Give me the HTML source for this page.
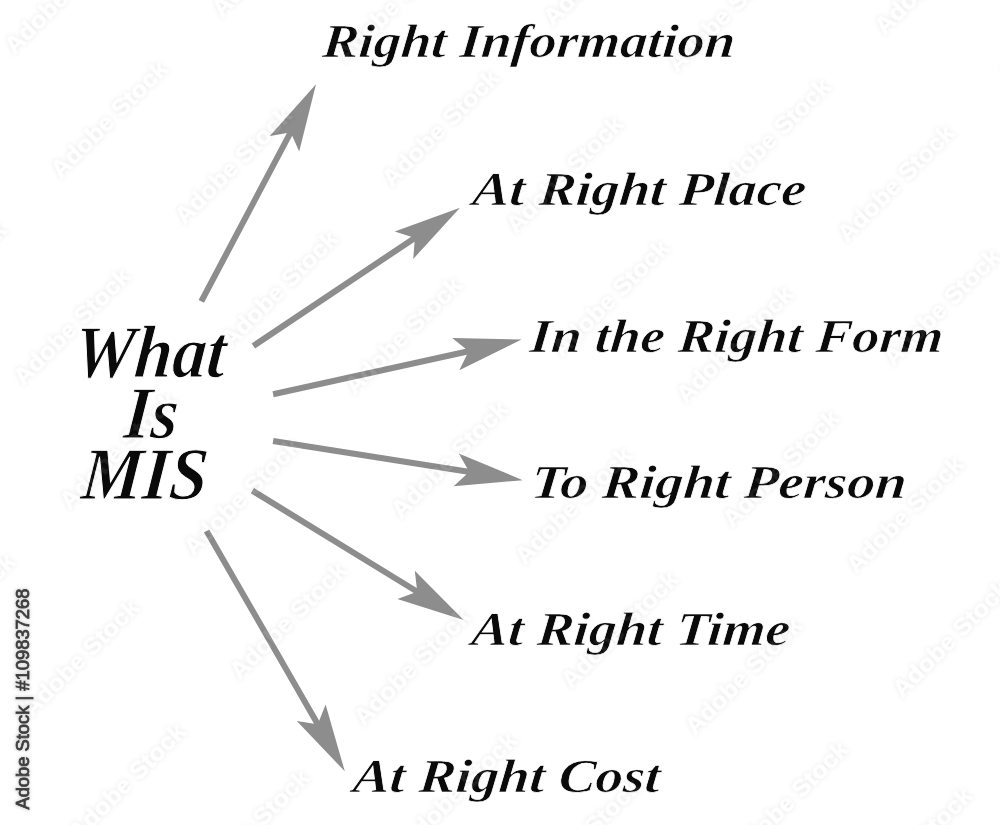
<!DOCTYPE html>
<html><head><meta charset="utf-8"><style>
html,body{margin:0;padding:0;background:#fff;}
body{width:1000px;height:825px;overflow:hidden;position:relative;}
svg{position:absolute;left:0;top:0;}
.t{font-family:"Liberation Serif",serif;font-weight:bold;font-style:italic;fill:#0a0a0a;}
.v{font-family:"Liberation Sans",sans-serif;fill:#3d3d3d;}
</style></head><body>
<svg width="1000" height="825" viewBox="0 0 1000 825">
<g fill="#8d8d8d">
<polygon points="198.6,300.0 286.9,132.9 269.8,136.0 316.0,84.2 299.2,151.6 292.2,135.7 204.0,302.8"/>
<polygon points="251.7,343.4 411.2,236.7 394.7,231.4 460.0,207.7 413.2,259.0 414.6,241.7 255.1,348.4"/>
<polygon points="272.5,391.3 465.6,348.8 452.2,337.9 521.6,339.6 459.3,370.3 466.9,354.7 273.7,397.2"/>
<polygon points="273.6,438.1 467.3,468.5 458.8,453.4 522.8,480.2 453.6,486.2 466.4,474.4 272.6,444.1"/>
<polygon points="254.0,488.1 416.8,587.9 414.8,570.7 463.6,620.0 397.4,599.0 413.7,593.0 250.8,493.3"/>
<polygon points="209.2,529.4 319.2,720.7 325.6,704.6 344.8,771.3 296.8,721.1 314.0,723.7 204.0,532.4"/>
</g>
<g class="t">
<text x="321.5" y="57.5" font-size="47.4" textLength="412.5" lengthAdjust="spacingAndGlyphs" transform="translate(0 57.5) skewX(-5) translate(0 -57.5)" stroke="#fff" stroke-width="0.7">Right Information</text>
<text x="471.5" y="205.0" font-size="47.4" textLength="333.5" lengthAdjust="spacingAndGlyphs" transform="translate(0 205.0) skewX(-5) translate(0 -205.0)" stroke="#fff" stroke-width="0.7">At Right Place</text>
<text x="529.0" y="352.0" font-size="47.4" textLength="413.0" lengthAdjust="spacingAndGlyphs" transform="translate(0 352.0) skewX(-5) translate(0 -352.0)" stroke="#fff" stroke-width="0.7">In the Right Form</text>
<text x="530.0" y="498.5" font-size="47.4" textLength="375.5" lengthAdjust="spacingAndGlyphs" transform="translate(0 498.5) skewX(-5) translate(0 -498.5)" stroke="#fff" stroke-width="0.7">To Right Person</text>
<text x="470.5" y="645.5" font-size="47.4" textLength="318.5" lengthAdjust="spacingAndGlyphs" transform="translate(0 645.5) skewX(-5) translate(0 -645.5)" stroke="#fff" stroke-width="0.7">At Right Time</text>
<text x="352.0" y="792.5" font-size="47.4" textLength="307.0" lengthAdjust="spacingAndGlyphs" transform="translate(0 792.5) skewX(-5) translate(0 -792.5)" stroke="#fff" stroke-width="0.7">At Right Cost</text>
<text x="72.5" y="377.0" font-size="74.5" textLength="151.5" lengthAdjust="spacingAndGlyphs" transform="translate(0 377.0) skewX(-5) translate(0 -377.0)" stroke="#fff" stroke-width="1">What</text>
<text x="122.5" y="438.5" font-size="74.5" textLength="54.0" lengthAdjust="spacingAndGlyphs" transform="translate(0 438.5) skewX(-5) translate(0 -438.5)" stroke="#fff" stroke-width="1">Is</text>
<text x="80.0" y="499.5" font-size="74.5" textLength="126.0" lengthAdjust="spacingAndGlyphs" transform="translate(0 499.5) skewX(-5) translate(0 -499.5)" stroke="#fff" stroke-width="1">MIS</text>
</g>
<defs><filter id="wmf" filterUnits="userSpaceOnUse" x="0" y="0" width="1000" height="825">
<feGaussianBlur in="SourceAlpha" stdDeviation="2.4" result="b"/>
<feComposite in="b" in2="SourceAlpha" operator="out" result="o"/>
<feColorMatrix in="o" type="matrix" values="0 0 0 0 0  0 0 0 0 0  0 0 0 0 0  0 0 0 0.11 0" result="sh"/>
<feColorMatrix in="SourceGraphic" type="matrix" values="1 0 0 0 0  0 1 0 0 0  0 0 1 0 0  0 0 0 0.08 0" result="wt"/>
<feMerge><feMergeNode in="sh"/><feMergeNode in="wt"/></feMerge>
</filter></defs>
<g font-family="Liberation Sans" font-weight="bold" font-size="23" style="fill:#fff" filter="url(#wmf)">
<text x="0" y="0" transform="translate(-109.5 9.3) rotate(-45)" textLength="154" lengthAdjust="spacingAndGlyphs">Adobe Stock</text>
<text x="0" y="0" transform="translate(-146.8 216.7) rotate(-45)" textLength="154" lengthAdjust="spacingAndGlyphs">Adobe Stock</text>
<text x="0" y="0" transform="translate(14.4 55.4) rotate(-45)" textLength="154" lengthAdjust="spacingAndGlyphs">Adobe Stock</text>
<text x="0" y="0" transform="translate(-100.6 340.6) rotate(-45)" textLength="154" lengthAdjust="spacingAndGlyphs">Adobe Stock</text>
<text x="0" y="0" transform="translate(60.6 179.4) rotate(-45)" textLength="154" lengthAdjust="spacingAndGlyphs">Adobe Stock</text>
<text x="0" y="0" transform="translate(221.8 18.2) rotate(-45)" textLength="154" lengthAdjust="spacingAndGlyphs">Adobe Stock</text>
<text x="0" y="0" transform="translate(-137.9 548.0) rotate(-45)" textLength="154" lengthAdjust="spacingAndGlyphs">Adobe Stock</text>
<text x="0" y="0" transform="translate(23.3 386.8) rotate(-45)" textLength="154" lengthAdjust="spacingAndGlyphs">Adobe Stock</text>
<text x="0" y="0" transform="translate(184.6 225.6) rotate(-45)" textLength="154" lengthAdjust="spacingAndGlyphs">Adobe Stock</text>
<text x="0" y="0" transform="translate(345.8 64.3) rotate(-45)" textLength="154" lengthAdjust="spacingAndGlyphs">Adobe Stock</text>
<text x="0" y="0" transform="translate(-91.7 672.0) rotate(-45)" textLength="154" lengthAdjust="spacingAndGlyphs">Adobe Stock</text>
<text x="0" y="0" transform="translate(69.5 510.7) rotate(-45)" textLength="154" lengthAdjust="spacingAndGlyphs">Adobe Stock</text>
<text x="0" y="0" transform="translate(230.7 349.5) rotate(-45)" textLength="154" lengthAdjust="spacingAndGlyphs">Adobe Stock</text>
<text x="0" y="0" transform="translate(391.9 188.3) rotate(-45)" textLength="154" lengthAdjust="spacingAndGlyphs">Adobe Stock</text>
<text x="0" y="0" transform="translate(553.2 27.1) rotate(-45)" textLength="154" lengthAdjust="spacingAndGlyphs">Adobe Stock</text>
<text x="0" y="0" transform="translate(-129.0 879.4) rotate(-45)" textLength="154" lengthAdjust="spacingAndGlyphs">Adobe Stock</text>
<text x="0" y="0" transform="translate(32.2 718.1) rotate(-45)" textLength="154" lengthAdjust="spacingAndGlyphs">Adobe Stock</text>
<text x="0" y="0" transform="translate(193.5 556.9) rotate(-45)" textLength="154" lengthAdjust="spacingAndGlyphs">Adobe Stock</text>
<text x="0" y="0" transform="translate(354.7 395.7) rotate(-45)" textLength="154" lengthAdjust="spacingAndGlyphs">Adobe Stock</text>
<text x="0" y="0" transform="translate(515.9 234.5) rotate(-45)" textLength="154" lengthAdjust="spacingAndGlyphs">Adobe Stock</text>
<text x="0" y="0" transform="translate(677.1 73.3) rotate(-45)" textLength="154" lengthAdjust="spacingAndGlyphs">Adobe Stock</text>
<text x="0" y="0" transform="translate(78.4 842.1) rotate(-45)" textLength="154" lengthAdjust="spacingAndGlyphs">Adobe Stock</text>
<text x="0" y="0" transform="translate(239.6 680.9) rotate(-45)" textLength="154" lengthAdjust="spacingAndGlyphs">Adobe Stock</text>
<text x="0" y="0" transform="translate(400.9 519.7) rotate(-45)" textLength="154" lengthAdjust="spacingAndGlyphs">Adobe Stock</text>
<text x="0" y="0" transform="translate(562.1 358.4) rotate(-45)" textLength="154" lengthAdjust="spacingAndGlyphs">Adobe Stock</text>
<text x="0" y="0" transform="translate(723.3 197.2) rotate(-45)" textLength="154" lengthAdjust="spacingAndGlyphs">Adobe Stock</text>
<text x="0" y="0" transform="translate(884.5 36.0) rotate(-45)" textLength="154" lengthAdjust="spacingAndGlyphs">Adobe Stock</text>
<text x="0" y="0" transform="translate(202.4 888.3) rotate(-45)" textLength="154" lengthAdjust="spacingAndGlyphs">Adobe Stock</text>
<text x="0" y="0" transform="translate(363.6 727.0) rotate(-45)" textLength="154" lengthAdjust="spacingAndGlyphs">Adobe Stock</text>
<text x="0" y="0" transform="translate(524.8 565.8) rotate(-45)" textLength="154" lengthAdjust="spacingAndGlyphs">Adobe Stock</text>
<text x="0" y="0" transform="translate(686.0 404.6) rotate(-45)" textLength="154" lengthAdjust="spacingAndGlyphs">Adobe Stock</text>
<text x="0" y="0" transform="translate(847.3 243.4) rotate(-45)" textLength="154" lengthAdjust="spacingAndGlyphs">Adobe Stock</text>
<text x="0" y="0" transform="translate(1008.5 82.2) rotate(-45)" textLength="154" lengthAdjust="spacingAndGlyphs">Adobe Stock</text>
<text x="0" y="0" transform="translate(409.8 851.0) rotate(-45)" textLength="154" lengthAdjust="spacingAndGlyphs">Adobe Stock</text>
<text x="0" y="0" transform="translate(571.0 689.8) rotate(-45)" textLength="154" lengthAdjust="spacingAndGlyphs">Adobe Stock</text>
<text x="0" y="0" transform="translate(732.2 528.6) rotate(-45)" textLength="154" lengthAdjust="spacingAndGlyphs">Adobe Stock</text>
<text x="0" y="0" transform="translate(893.4 367.3) rotate(-45)" textLength="154" lengthAdjust="spacingAndGlyphs">Adobe Stock</text>
<text x="0" y="0" transform="translate(533.7 897.2) rotate(-45)" textLength="154" lengthAdjust="spacingAndGlyphs">Adobe Stock</text>
<text x="0" y="0" transform="translate(694.9 736.0) rotate(-45)" textLength="154" lengthAdjust="spacingAndGlyphs">Adobe Stock</text>
<text x="0" y="0" transform="translate(856.2 574.7) rotate(-45)" textLength="154" lengthAdjust="spacingAndGlyphs">Adobe Stock</text>
<text x="0" y="0" transform="translate(1017.4 413.5) rotate(-45)" textLength="154" lengthAdjust="spacingAndGlyphs">Adobe Stock</text>
<text x="0" y="0" transform="translate(741.1 859.9) rotate(-45)" textLength="154" lengthAdjust="spacingAndGlyphs">Adobe Stock</text>
<text x="0" y="0" transform="translate(902.3 698.7) rotate(-45)" textLength="154" lengthAdjust="spacingAndGlyphs">Adobe Stock</text>
<text x="0" y="0" transform="translate(865.1 906.1) rotate(-45)" textLength="154" lengthAdjust="spacingAndGlyphs">Adobe Stock</text>
<text x="0" y="0" transform="translate(1026.3 744.9) rotate(-45)" textLength="154" lengthAdjust="spacingAndGlyphs">Adobe Stock</text>
</g>
<defs><filter id="gl" x="-20%" y="-20%" width="140%" height="140%"><feGaussianBlur stdDeviation="1.6"/></filter></defs>
<text class="v" style="fill:#bbb" x="0" y="0" font-size="19" stroke="#bbb" stroke-width="2.5" opacity="0.55" filter="url(#gl)" transform="translate(28.8 809.6) rotate(-90)" textLength="221" lengthAdjust="spacingAndGlyphs">Adobe Stock | #109837268</text>
<text class="v" opacity="0.995" x="0" y="0" font-size="19" stroke="#3d3d3d" stroke-width="0.8" transform="translate(28.8 809.6) rotate(-90)" textLength="221" lengthAdjust="spacingAndGlyphs">Adobe Stock | #109837268</text>
</svg>
</body></html>
